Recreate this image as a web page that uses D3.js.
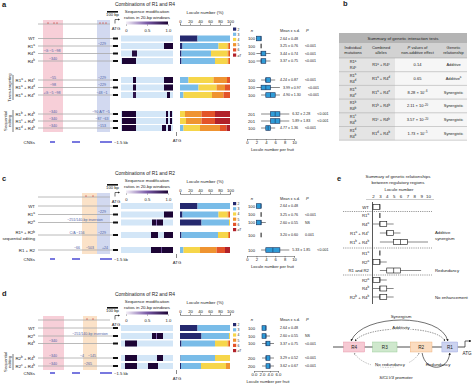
<!DOCTYPE html>
<html>
<head>
<meta charset="utf-8">
<script src="https://cdn.jsdelivr.net/npm/d3@7"></script>
<style>
  body { margin: 0; background: #fff; }
  svg { display: block; font-family: "Liberation Sans", Arial, sans-serif; }
</style>
</head>
<body>
<svg id="fig" width="474" height="386"></svg>
<script>
// ---------- shared categories ----------
var loculeClasses = ["2", "3", "4", "5", "6", "≥7"];
var loculeColors = ["#25296e", "#79bce8", "#f6d64a", "#ef9431", "#e3542a", "#b1222a"];

// ---------- panel a : combinations of R1 and R4 ----------
var aGenotypes = ["WT", "R1^a", "R4^a", "R4^b", "R1^a + R4^c", "R1^a + R4^d", "R1^a + R4^e",
                  "R1^b + R4^b", "R1^c + R4^b", "R1^d + R4^b"];
var aEdits = [[], [["−229", 64]], [["−G  −5 −98", 14]], [["−340", 15]],
              [["−55", 15], ["−229", 64]], [["−98", 15], ["−229", 64]], [["+G  −5 −98", 14], ["−48 −1", 64]],
              [["−340", 15], ["−90 A/T −5", 63]], [["−340", 15], ["−87 −63", 64]], [["−340", 15], ["−153", 64]]];
// modified 20-bp windows: [first window, last window, modification ratio]
var aWindows = [[], [[43, 52, 1]], [[11, 16, 0.95]], [[1, 15, 1]],
                [[12, 15, 1], [43, 52, 1]], [[12, 15, 1], [43, 52, 1]], [[12, 15, 0.9], [46, 49, 1]],
                [[1, 15, 1], [45, 47, 1], [49, 51, 1]], [[1, 15, 1], [45, 47, 1], [49, 51, 1]],
                [[1, 15, 1], [41, 45, 1], [47, 50, 1]]];
var aLocule = [[35, 65, 0, 0, 0, 0], [5, 72, 18, 3, 2, 0], [3, 59, 33, 3, 2, 0], [3, 67, 25, 3, 2, 0],
               [0, 17, 50, 27, 6, 0], [0, 37, 36, 17, 10, 0], [0, 7, 57, 23, 13, 0],
               [0, 0, 10, 33, 27, 30], [0, 0, 12, 31, 27, 30], [0, 7, 33, 40, 13, 7]];
// min, q1, median, q3, max
var aBoxes = [[2, 2, 3, 3, 3], [3, 3, 3, 3, 3], [2, 3, 3, 4, 5], [2, 3, 3, 4, 5],
              [3, 4, 4, 5, 6], [2, 3, 4, 5, 7], [3, 4, 5, 6, 7],
              [3, 5, 6, 7, 9], [3, 5, 6, 7, 9], [3, 4, 4.5, 5, 6]];
var aN = [100, 100, 100, 100, 100, 100, 100, 201, 201, 100];
var aMean = ["2.64 ± 0.48", "3.25 ± 0.76", "3.44 ± 0.74", "3.37 ± 0.75", "4.24 ± 0.87", "3.99 ± 0.97",
             "4.90 ± 1.30", "6.32 ± 2.28", "5.89 ± 1.83", "4.77 ± 1.36"];
var aP = ["", "<0.001", "<0.001", "<0.001", "<0.001", "<0.001", "<0.001", "<0.001", "<0.001", "<0.001"];

// ---------- panel c : combinations of R1 and R2 ----------
var cGenotypes = ["WT", "R1^a", "R2^a", "R1^a + R2^b", "R1 + R2"];
var cEdits = [[], [["−229", 64]], [["−251/140-bp inversion", 47]], [["C/A −156", 39], ["−229", 64]],
              [["−66", 39], ["−503", 52], ["+24", 67]]];
var cWindows = [[], [[43, 52, 1]], [[31, 35, 1], [35, 36, 0.45], [36, 42, 1]],
                [[30, 37, 1], [43, 52, 1]], [[30, 40, 1], [40, 41, 0.6], [41, 52, 1]]];
var cLocule = [[35, 65, 0, 0, 0, 0], [5, 72, 18, 3, 2, 0], [43, 55, 2, 0, 0, 0],
               [3, 73, 20, 2, 2, 0], [0, 7, 33, 33, 17, 10]];
var cBoxes = [[2, 2, 3, 3, 3], [3, 3, 3, 3, 3], [2, 2, 3, 3, 4], [3, 3, 3, 3, 3], [3, 4, 5.5, 7, 9]];
var cN = [100, 100, 100, 100, 100];
var cMean = ["2.64 ± 0.48", "3.25 ± 0.76", "2.60 ± 0.55", "3.20 ± 0.60", "5.33 ± 1.85"];
var cP = ["", "<0.001", "NS", "0.001", "<0.001"];

// ---------- panel d : combinations of R2 and R4 ----------
var dGenotypes = ["WT", "R2^a", "R4^b", "R2^b + R4^b", "R2^c + R4^b"];
var dEdits = [[], [["−251/140-bp inversion", 52]], [["−340", 15]],
              [["−340", 15], ["−4", 44], ["−145", 54]], [["−340", 15], ["−265", 50]]];
var dWindows = [[], [[31, 35, 1], [35, 36, 0.45], [36, 42, 1]], [[4, 16, 1]],
                [[4, 16, 1], [36, 42, 1]], [[4, 16, 1], [27, 37, 1]]];
var dLocule = [[35, 65, 0, 0, 0, 0], [43, 55, 2, 0, 0, 0], [3, 67, 25, 3, 2, 0],
               [1, 69, 30, 0, 0, 0], [2, 40, 50, 8, 0, 0]];
var dBoxes = [[2, 2, 3, 3, 3], [2, 2, 3, 3, 4], [2, 3, 3, 4, 5], [2, 3, 3, 4, 5], [2, 3, 4, 4, 5]];
var dN = [100, 100, 100, 200, 200];
var dMean = ["2.64 ± 0.48", "2.60 ± 0.55", "3.37 ± 0.75", "3.29 ± 0.52", "3.62 ± 0.67"];
var dP = ["", "NS", "<0.001", "<0.001", "<0.001"];

// ---------- panel b : interaction tests ----------
var bIndividual = [["R1^a", "R4^c"], ["R1^a", "R4^d"], ["R1^a", "R4^e"],
                   ["R1^b", "R4^b"], ["R1^c", "R4^b"], ["R1^d", "R4^b"]];
var bCombined = ["R1^a + R4^c", "R1^a + R4^d", "R1^a + R4^e", "R1^b + R4^b", "R1^c + R4^b", "R1^d + R4^b"];
var bPvalue = ["0.14", "0.65", "8.28 × 10^{−6}", "2.11 × 10^{−20}", "3.57 × 10^{−20}", "1.73 × 10^{−5}"];
var bRelation = ["Additive", "Additive^a", "Synergistic", "Synergistic", "Synergistic", "Synergistic"];

// ---------- panel e : summary ----------
var eGenotypes = ["WT", "R1^a", "R4^a", "R1^a + R4^c", "R1^b + R4^b", "R1^a", "R2^a", "R1 and R2",
                  "R2^a", "R4^b", "R2^b + R4^b"];
var eBoxes = [[2, 2, 3, 3, 3], [3, 3, 3, 3, 3], [2, 3, 3, 4, 5], [3, 4, 4, 5, 6], [3, 5, 6, 7, 10],
              [3, 3, 3, 3, 3], [2, 2, 3, 3, 4], [3, 4, 5, 6, 9], [2, 2, 3, 3, 4], [2, 3, 3, 4, 5], [2, 3, 3, 4, 5]];
var eNotes = [["Additive", "synergism"], ["Redundancy"], ["No enhancement"]];
var eRegions = ["R4", "R3", "R2", "R1"];
var eRegionSpan = [[8, 24], [30, 48.5], [58.5, 75], [82.5, 94.5]];
var eLinks = ["Synergism", "Additivity", "No redundancy", "Redundancy"];

// ---------- helpers ----------
var svg = d3.select("#fig");
var defs = svg.append("defs");
defs.append("marker").attr("id", "ah").attr("viewBox", "0 0 6 6").attr("refX", 5).attr("refY", 3)
  .attr("markerWidth", 3.4).attr("markerHeight", 3.4).attr("orient", "auto-start-reverse")
  .append("path").attr("d", "M0,0L6,3L0,6Z").attr("fill", "#222");
defs.append("marker").attr("id", "ahg").attr("viewBox", "0 0 6 6").attr("refX", 5).attr("refY", 3)
  .attr("markerWidth", 3.4).attr("markerHeight", 3.4).attr("orient", "auto-start-reverse")
  .append("path").attr("d", "M0,0L6,3L0,6Z").attr("fill", "#999");

function rich(t, str, fs) {
  var up = 0;
  str.split(/(\^\{[^}]*\}|\^.)/).forEach(function (p) {
    if (!p) return;
    if (p[0] === "^") {
      var s = p[1] === "{" ? p.slice(2, -1) : p.slice(1);
      var d = fs * 0.38;
      t.append("tspan").attr("dy", -d).attr("font-size", fs * 0.68).text(s);
      up += d;
    } else {
      t.append("tspan").attr("dy", up).text(p);
      up = 0;
    }
  });
  return t;
}
function text(g, x, y, str, fs, anchor, fill) {
  var t = g.append("text").attr("x", x).attr("y", y).attr("font-size", fs)
    .attr("text-anchor", anchor || "start").attr("fill", fill || "#222");
  return rich(t, str, fs);
}
function hline(g, x1, x2, y, color, w, dash) {
  return g.append("line").attr("x1", x1).attr("x2", x2).attr("y1", y).attr("y2", y)
    .attr("stroke", color).attr("stroke-width", w).attr("stroke-dasharray", dash || null);
}
function boxPlot(g, sx, y, b, h, fill, stroke) {
  hline(g, sx(b[0]), sx(b[4]), y, "#111", 0.5);
  if (b[1] === b[3]) {
    g.append("line").attr("x1", sx(b[2])).attr("x2", sx(b[2])).attr("y1", y - h / 2).attr("y2", y + h / 2)
      .attr("stroke", "#111").attr("stroke-width", 1);
    return;
  }
  g.append("rect").attr("x", sx(b[1])).attr("y", y - h / 2).attr("width", sx(b[3]) - sx(b[1]))
    .attr("height", h).attr("fill", fill).attr("stroke", stroke).attr("stroke-width", 0.6);
  g.append("line").attr("x1", sx(b[2])).attr("x2", sx(b[2])).attr("y1", y - h / 2).attr("y2", y + h / 2)
    .attr("stroke", stroke).attr("stroke-width", 0.6);
}
function styleAxis(a, fs) {
  a.selectAll("path, line").attr("stroke", "#444").attr("stroke-width", 0.5);
  a.selectAll("text").attr("font-size", fs).attr("fill", "#222").attr("font-family", "Liberation Sans, Arial, sans-serif");
}

// common scales for the combination panels
var pX = d3.scaleLinear().domain([0, 75]).range([38, 113]);      // schematic promoter
var hX = d3.scaleLinear().domain([0, 52]).range([121, 173]);     // 20-bp windows
var lX = d3.scaleLinear().domain([0, 100]).range([180, 230]);    // locule %
var cbX = d3.scaleLinear().domain([0, 1]).range([126, 168]);     // colour bar
var heat = d3.scaleLinear().domain([0, 0.5, 1]).range(["#f4f0f8", "#7a5aa8", "#1d0535"]);
var locColor = d3.scaleOrdinal().domain(loculeClasses).range(loculeColors);
var cns = [[12, 17], [34, 42], [62, 74]];

var grad = defs.append("linearGradient").attr("id", "cb");
d3.range(0, 1.01, 0.1).forEach(function (t) {
  grad.append("stop").attr("offset", t).attr("stop-color", heat(t));
});

function comboPanel(o) {
  var g = svg.append("g");
  var ys = o.rowY, top = o.top, last = ys[ys.length - 1];
  text(g, 2, o.letterY, o.letter, 7.5).attr("font-weight", "bold");
  text(g, 145, o.titleY, o.title, 4.9, "middle");
  text(g, 147, o.titleY + 7, "Sequence modification", 4.4, "middle");
  text(g, 147, o.titleY + 12.5, "ratios in 20-bp windows", 4.4, "middle");
  g.append("rect").attr("x", cbX(0)).attr("y", o.titleY + 15.5).attr("width", cbX(1) - cbX(0))
    .attr("height", 3).attr("fill", "url(#cb)");
  var cbAxis = g.append("g").attr("transform", "translate(0," + (o.titleY + 18.5) + ")")
    .call(d3.axisBottom(cbX).tickValues([0, 0.5, 1]).tickSize(1.2)
      .tickFormat(function (d) { return d === 0 ? "0" : d.toFixed(1); }));
  cbAxis.select(".domain").remove();
  styleAxis(cbAxis, 4.2);
  text(g, 205, o.titleY + 8, "Locule number (%)", 4.4, "middle");
  var lAxis = g.append("g").attr("transform", "translate(0," + (o.titleY + 19) + ")")
    .call(d3.axisTop(lX).tickValues([0, 20, 40, 60, 80, 100]).tickSize(1.5).tickPadding(1));
  styleAxis(lAxis, 4.2);

  // promoter schematic
  o.regions.forEach(function (r) {
    g.append("rect").attr("x", pX(r[0])).attr("y", top - 4).attr("width", pX(r[1]) - pX(r[0]))
      .attr("height", last - top + 8).attr("fill", r[2]);
  });
  hline(g, pX(0), pX(72), top, "#a8a8a8", 0.8);
  o.marks.forEach(function (m) {
    g.append("line").attr("x1", pX(m)).attr("x2", pX(m)).attr("y1", top - 1.8).attr("y2", top)
      .attr("stroke", "#d2413a").attr("stroke-width", 0.7);
  });
  g.append("rect").attr("x", 107).attr("y", top - 13).attr("width", 11).attr("height", 1.6).attr("fill", "#111");
  text(g, 112.5, top - 8, "100 bp", 4.2, "middle");
  g.append("path").attr("d", "M115," + (top - 0.5) + "V" + (top - 4.5) + "H119.5")
    .attr("fill", "none").attr("stroke", "#111").attr("stroke-width", 0.6).attr("marker-end", "url(#ah)");
  text(g, 116, top + 5.5, "ATG", 4.2, "middle");

  // legend
  loculeClasses.forEach(function (c, k) {
    var ly = o.legendY + k * 5.2;
    g.append("rect").attr("x", 233).attr("y", ly).attr("width", 3.2).attr("height", 3.2).attr("fill", locColor(c));
    text(g, 237.5, ly + 3, c, 3.4);
  });

  // table headers for the box plots
  text(g, 252, o.headY, "n", 4.2, "middle").attr("font-style", "italic");
  text(g, 280, o.headY, "Mean ± s.d.", 3.8);
  text(g, 306, o.headY, "P", 4, "start").attr("font-style", "italic");

  ys.forEach(function (y, i) {
    hline(g, pX(0), pX(75), y, "#a8a8a8", 0.8);
    g.append("rect").attr("x", pX(75)).attr("y", y - 1).attr("width", 5).attr("height", 2).attr("fill", "#111");
    if (o.subLabel && o.subLabel[i]) {
      text(g, 35, y - 0.6, o.genotypes[i], 4.4, "end");
      text(g, 35, y + 4.6, o.subLabel[i], 4.2, "end");
    } else {
      text(g, 35, y + 1.6, o.genotypes[i], 4.4, "end");
    }
    o.edits[i].forEach(function (e) {
      text(g, pX(e[1]), y - 1.2, e[0], 3.6, "middle", "#4a5ea6");
    });
    // heat strip
    g.append("rect").attr("x", hX(0)).attr("y", y - 3).attr("width", hX(52) - hX(0)).attr("height", 6).attr("fill", "#d3e6f7");
    o.windows[i].forEach(function (w) {
      g.append("rect").attr("x", hX(w[0])).attr("y", y - 3).attr("width", hX(w[1]) - hX(w[0]))
        .attr("height", 6).attr("fill", heat(w[2]));
    });
    // locule composition
    var acc = 0;
    o.locule[i].forEach(function (v, k) {
      if (v > 0) {
        g.append("rect").attr("x", lX(acc)).attr("y", y - 3).attr("width", lX(acc + v) - lX(acc))
          .attr("height", 6).attr("fill", locColor(loculeClasses[k]));
      }
      acc += v;
    });
    // box plot column
    text(g, 255, y + 1.5, String(o.n[i]), 4.2, "end");
    boxPlot(g, o.bX, y, o.boxes[i], 4.6, "#2f9bd7", "#15305a");
    var mx = Math.max(280, o.bX(o.boxes[i][4]) + 3);
    text(g, mx, y + 1.3, o.mean[i], 3.6);
    if (o.p[i]) text(g, mx + 25, y + 1.3, o.p[i], 3.6);
  });

  // CNS row
  text(g, 35, o.cnsY + 1.5, "CNSs", 4.4, "end");
  cns.forEach(function (c) {
    g.append("rect").attr("x", pX(c[0])).attr("y", o.cnsY - 0.8).attr("width", pX(c[1]) - pX(c[0]))
      .attr("height", 1.6).attr("fill", "#5858d8");
  });
  text(g, pX(75) + 1, o.cnsY + 1.5, "~1.5 kb", 4.2);
  g.append("line").attr("x1", 176.5).attr("x2", 176.5).attr("y1", last + 4).attr("y2", last + 8)
    .attr("stroke", "#111").attr("stroke-width", 0.5);
  text(g, 177, last + 13.5, "ATG", 4.2, "middle");

  // locule number axis
  var bAxis = g.append("g").attr("transform", "translate(0," + o.bAxisY + ")")
    .call(d3.axisBottom(o.bX).tickValues(o.bTicks).tickSize(1.5).tickPadding(1));
  styleAxis(bAxis, 4.2);
  text(g, (o.bX.range()[0] + o.bX.range()[1]) / 2 + 2, o.bAxisY + 12, "Locule number per fruit", 4.2, "middle");

  (o.brackets || []).forEach(function (b) {
    g.append("line").attr("x1", 13).attr("x2", 13).attr("y1", b.y0).attr("y2", b.y1)
      .attr("stroke", "#222").attr("stroke-width", 0.6);
    b.lines.forEach(function (s, k) {
      var tx = 11 - (b.lines.length - 1 - k) * 4.5;
      g.append("text").attr("transform", "translate(" + tx + "," + ((b.y0 + b.y1) / 2) + ") rotate(-90)")
        .attr("text-anchor", "middle").attr("font-size", 4.2).attr("fill", "#222").text(s);
    });
  });
}

comboPanel({
  letter: "a", letterY: 7, title: "Combinations of R1 and R4", titleY: 6, top: 24,
  rowY: [38.5, 46, 53.5, 61, 80, 87.5, 95, 114, 121, 128], headY: 31.5, legendY: 27.5,
  genotypes: aGenotypes, edits: aEdits, windows: aWindows, locule: aLocule, boxes: aBoxes,
  n: aN, mean: aMean, p: aP,
  regions: [[5, 25, "#f7cfd8"], [59, 72, "#d2d9f0"]], marks: [10, 16, 19, 62, 65, 68],
  cnsY: 142, bX: d3.scaleLinear().domain([0, 10]).range([247, 294]), bTicks: [0, 2, 4, 6, 8, 10], bAxisY: 139,
  brackets: [{ y0: 75, y1: 100, lines: ["Trans-targeting"] }, { y0: 110, y1: 132, lines: ["Sequential", "editing"] }]
});

comboPanel({
  letter: "c", letterY: 181, title: "Combinations of R1 and R2", titleY: 175, top: 197,
  rowY: [206, 214.5, 222.5, 235, 250], headY: 200, legendY: 202,
  genotypes: cGenotypes, subLabel: [null, null, null, "sequential editing", null],
  edits: cEdits, windows: cWindows, locule: cLocule, boxes: cBoxes, n: cN, mean: cMean, p: cP,
  regions: [[44, 59, "#fbe2c8"], [59, 72, "#d2d9f0"]], marks: [48, 55],
  cnsY: 259, bX: d3.scaleLinear().domain([0, 10]).range([247, 294]), bTicks: [0, 2, 4, 6, 8, 10], bAxisY: 256
});

comboPanel({
  letter: "d", letterY: 296, title: "Combinations of R2 and R4", titleY: 296, top: 320,
  rowY: [328, 336, 343.5, 358, 366], headY: 321, legendY: 323,
  genotypes: dGenotypes, edits: dEdits, windows: dWindows, locule: dLocule, boxes: dBoxes, n: dN, mean: dMean, p: dP,
  regions: [[5, 26, "#f7cfd8"], [45, 59, "#fbe2c8"]], marks: [49, 55],
  cnsY: 373, bX: d3.scaleLinear().domain([0, 6]).range([254, 278]), bTicks: [0, 2, 4, 6], bAxisY: 371,
  brackets: [{ y0: 354, y1: 370, lines: ["Sequential", "editing"] }]
});

// ---------- panel b : table ----------
(function () {
  var g = svg.append("g");
  var cx = [339, 367, 395, 440, 467];
  var y0 = 33, h1 = 10, h2 = 15, rh = 13.7;
  text(g, 343, 6, "b", 7.5).attr("font-weight", "bold");
  g.append("rect").attr("x", cx[0]).attr("y", y0).attr("width", cx[4] - cx[0]).attr("height", h1).attr("fill", "#b4b4b4");
  g.append("rect").attr("x", cx[0]).attr("y", y0 + h1).attr("width", cx[4] - cx[0]).attr("height", h2).attr("fill", "#d2d2d2");
  text(g, (cx[0] + cx[4]) / 2, y0 + 6.6, "Summary of genetic interaction tests", 4.4, "middle");
  var heads = [["Individual", "mutations"], ["Combined", "alleles"], ["^P values of", "non-additive effect"], ["Genetic", "relationship"]];
  heads.forEach(function (h, k) {
    var mx = (cx[k] + cx[k + 1]) / 2;
    var t = g.append("text").attr("x", mx).attr("y", y0 + h1 + 6).attr("font-size", 4).attr("text-anchor", "middle").attr("fill", "#222");
    if (k === 2) { t.append("tspan").attr("font-style", "italic").text("P"); t.append("tspan").text(" values of"); }
    else t.text(h[0]);
    text(g, mx, y0 + h1 + 11, h[1], 4, "middle");
  });
  var ry0 = y0 + h1 + h2;
  bCombined.forEach(function (c, i) {
    var ry = ry0 + i * rh;
    g.append("rect").attr("x", cx[0]).attr("y", ry).attr("width", cx[2] - cx[0]).attr("height", rh).attr("fill", "#e4e4e4");
    g.append("rect").attr("x", cx[2]).attr("y", ry).attr("width", cx[4] - cx[2]).attr("height", rh).attr("fill", "#f6f6f6");
    hline(g, cx[0], cx[4], ry, "#8a8a8a", 0.4);
    text(g, (cx[0] + cx[1]) / 2, ry + 5.2, bIndividual[i][0], 4, "middle");
    text(g, (cx[0] + cx[1]) / 2, ry + 11.2, bIndividual[i][1], 4, "middle");
    text(g, (cx[1] + cx[2]) / 2, ry + 8.3, c, 4, "middle");
    text(g, (cx[2] + cx[3]) / 2, ry + 8.3, bPvalue[i], 4, "middle");
    text(g, (cx[3] + cx[4]) / 2, ry + 8.3, bRelation[i], 4, "middle");
  });
  hline(g, cx[0], cx[4], ry0 + bCombined.length * rh, "#8a8a8a", 0.4);
})();

// ---------- panel e : summary ----------
(function () {
  var g = svg.append("g");
  var eX = d3.scaleLinear().domain([2, 10]).range([373, 428]);
  var rowY = [207, 215.5, 224, 233, 242, 253, 262, 270.5, 280, 288.5, 297];
  text(g, 337, 181, "e", 7.5).attr("font-weight", "bold");
  text(g, 398, 178, "Summary of genetic relationships", 4.4, "middle");
  text(g, 398, 184, "between regulatory regions", 4.4, "middle");
  text(g, 399, 191, "Locule number", 4.4, "middle");
  var ax = g.append("g").attr("transform", "translate(0,199.5)")
    .call(d3.axisTop(eX).tickValues(d3.range(2, 11)).tickSize(0).tickPadding(1.5));
  ax.select(".domain").attr("stroke", "#999").attr("d", "M366,0H434");
  styleAxis(ax, 4.4);
  ax.select(".domain").attr("stroke", "#999");
  g.append("line").attr("x1", eX(2) - 0.5).attr("x2", eX(2) - 0.5).attr("y1", 202).attr("y2", 304)
    .attr("stroke", "#111").attr("stroke-width", 0.7);
  [211.5, 248, 275].forEach(function (y) { hline(g, 343, 432, y, "#555", 0.6, "1.2,1"); });
  eGenotypes.forEach(function (s, i) {
    text(g, 369, rowY[i] + 1.5, s, 4.3, "end");
    boxPlot(g, eX, rowY[i], eBoxes[i], 5, "#fff", "#111");
  });
  text(g, 435, 234, eNotes[0][0], 4.3);
  text(g, 435, 240, eNotes[0][1], 4.3);
  text(g, 435, 272, eNotes[1][0], 4.3);
  text(g, 435, 298.5, eNotes[2][0], 4.3);

  // promoter schematic
  var dX = d3.scaleLinear().domain([0, 100]).range([333, 465]);
  var ly = 347;
  var fills = ["#f6c9d3", "#cfe8cd", "#fbdcc0", "#ccd3f0"];
  var strokes = ["#e58ba0", "#8cc58a", "#f0aa6e", "#8f9ddb"];
  hline(g, dX(0), dX(100), ly, "#222", 0.8);
  eRegions.forEach(function (r, k) {
    var s = eRegionSpan[k];
    g.append("rect").attr("x", dX(s[0])).attr("y", ly - 5).attr("width", dX(s[1]) - dX(s[0])).attr("height", 10)
      .attr("fill", fills[k]).attr("stroke", strokes[k]).attr("stroke-width", 0.4);
    text(g, dX((s[0] + s[1]) / 2), ly + 1.6, r, 4.6, "middle");
  });
  g.append("path").attr("d", "M" + dX(100) + "," + ly + "V" + (ly - 6) + "H" + (dX(100) + 6))
    .attr("fill", "none").attr("stroke", "#222").attr("stroke-width", 0.7).attr("marker-end", "url(#ah)");
  text(g, dX(100) + 2, ly + 8, "ATG", 4.6, "middle");

  var r4 = dX((eRegionSpan[0][0] + eRegionSpan[0][1]) / 2);
  var r2 = dX((eRegionSpan[2][0] + eRegionSpan[2][1]) / 2);
  var r1 = dX((eRegionSpan[3][0] + eRegionSpan[3][1]) / 2);
  g.append("path").attr("d", "M" + (r4 - 3) + "," + (ly - 6) + "C" + (r4 + 8) + ",313 " + (r1 - 8) + ",313 " + (r1 - 2) + "," + (ly - 6))
    .attr("fill", "none").attr("stroke", "#333").attr("stroke-width", 0.7)
    .attr("marker-start", "url(#ah)").attr("marker-end", "url(#ah)");
  g.append("path").attr("d", "M" + (r4 + 1) + "," + (ly - 6) + "C" + (r4 + 12) + ",325 " + (r1 - 12) + ",325 " + (r1 - 5) + "," + (ly - 6))
    .attr("fill", "none").attr("stroke", "#555").attr("stroke-width", 0.6).attr("stroke-dasharray", "1.5,1")
    .attr("marker-start", "url(#ah)").attr("marker-end", "url(#ah)");
  g.append("rect").attr("x", 388).attr("y", 313.5).attr("width", 26).attr("height", 5.5).attr("fill", "#fff");
  text(g, 401, 318, eLinks[0], 4.4, "middle");
  g.append("rect").attr("x", 390).attr("y", 324).attr("width", 22).attr("height", 5.5).attr("fill", "#fff");
  text(g, 401, 328.5, eLinks[1], 4.4, "middle");
  g.append("path").attr("d", "M" + r4 + "," + (ly + 6) + "C" + (r4 + 12) + ",372 " + (r2 - 12) + ",372 " + (r2 - 2) + "," + (ly + 6))
    .attr("fill", "none").attr("stroke", "#999").attr("stroke-width", 0.6).attr("stroke-dasharray", "1.5,1")
    .attr("marker-start", "url(#ahg)").attr("marker-end", "url(#ahg)");
  g.append("rect").attr("x", 371).attr("y", 361).attr("width", 38).attr("height", 5.5).attr("fill", "#fff");
  text(g, 390, 365.5, eLinks[2], 4.4, "middle");
  g.append("path").attr("d", "M" + (r2 + 1) + "," + (ly + 6) + "C" + (r2 + 4) + ",372 " + (r1 - 2) + ",372 " + r1 + "," + (ly + 6))
    .attr("fill", "none").attr("stroke", "#333").attr("stroke-width", 0.7).attr("marker-end", "url(#ah)");
  text(g, 438, 366, eLinks[3], 4.4, "middle");
  var t = g.append("text").attr("x", 396).attr("y", 379).attr("font-size", 4.4).attr("text-anchor", "middle")
    .attr("fill", "#222").attr("font-style", "italic");
  t.append("tspan").text("SlCLV3");
  t.append("tspan").attr("font-style", "normal").text(" promoter");
})();
</script>
</body>
</html>
